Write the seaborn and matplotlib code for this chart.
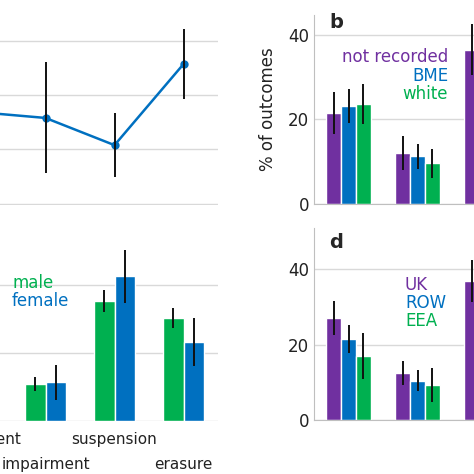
import matplotlib
matplotlib.use("Agg")
import matplotlib.pyplot as plt
import seaborn as sns
import numpy as np
import pandas as pd

sns.set_style("white")
plt.rcParams['font.family'] = ['DejaVu Sans']

PURPLE, BLUE, GREEN = "#7030A0", "#0070C0", "#00B050"
GRID = "#d9d9d9"

# panel a (line, left top)
outcomes = ["punishment", "impairment", "suspension", "erasure"]
a_vals = [1.69, 1.58, 1.08, 2.57]
a_err = [0.5, 1.02, 0.59, 0.65]

# panel c (gender, left bottom)
genders = ["male", "female"]
c_male = [8.0, 5.4, 17.6, 15.1]
c_female = [8.5, 5.7, 21.3, 11.6]
c_male_err = [1.5, 1.0, 1.6, 1.5]
c_female_err = [2.5, 2.6, 3.9, 3.5]

# panel b (ethnicity, right top)
groups = ["g1", "g2", "g3"]
ethnic = ["not recorded", "BME", "white"]
b_vals = {"not recorded": [21.5, 12.0, 36.5], "BME": [23.2, 11.3, 30.0], "white": [23.6, 9.6, 28.0]}
b_err = {"not recorded": [5.0, 4.0, 6.0], "BME": [4.0, 3.0, 4.0], "white": [4.7, 3.4, 4.0]}

# panel d (nationality, right bottom)
nation = ["UK", "ROW", "EEA"]
d_vals = {"UK": [27.0, 12.4, 36.8], "ROW": [21.5, 10.4, 30.0], "EEA": [17.0, 9.2, 28.0]}
d_err = {"UK": [4.5, 3.2, 5.5], "ROW": [3.8, 2.8, 4.0], "EEA": [6.0, 4.5, 4.0]}

W = H = 474
fig = plt.figure(figsize=(W / 100, H / 100), dpi=100)


def px_axes(x0, y0, x1, y1):
    return fig.add_axes([x0 / W, 1 - y1 / H, (x1 - x0) / W, (y1 - y0) / H])


def grouped_bars(ax, cats, hues, vals, errs, colors, width):
    df = pd.DataFrame([(c, h, vals[h][i]) for h in hues for i, c in enumerate(cats)],
                      columns=["cat", "hue", "val"])
    sns.barplot(data=df, x="cat", y="val", hue="hue", hue_order=hues, order=cats,
                palette=colors, width=width, errorbar=None, legend=False,
                saturation=1, ax=ax)
    n = len(hues)
    bw = width / n
    for j, h in enumerate(hues):
        xs = np.arange(len(cats)) - width / 2 + bw * (j + 0.5)
        ax.errorbar(xs, vals[h], yerr=errs[h], fmt="none", ecolor="#111111", elinewidth=1.4, capsize=0)


# ---- panel a
ax = px_axes(-92.5, 20, 218, 205)
sns.lineplot(x=np.arange(4), y=a_vals, marker="o", color=BLUE, linewidth=1.8,
             markersize=6, markeredgewidth=0, ax=ax)
ax.errorbar(np.arange(4), a_vals, yerr=a_err, fmt="none", ecolor="#111111", elinewidth=1.4)
ax.set_xlim(-1, 3.5)
ax.set_ylim(-0.02, 3.38)
ax.set_yticks([0, 1, 2, 3])
ax.grid(axis="y", color=GRID, linewidth=1)
ax.set_xticks([])
ax.set_yticklabels([])
sns.despine(ax=ax, left=True, bottom=True)

# ---- panel c
ax = px_axes(-92.5, 240, 218, 421)
grouped_bars(ax, outcomes, genders, {"male": c_male, "female": c_female},
             {"male": c_male_err, "female": c_female_err}, [GREEN, BLUE], 0.58)
ax.set_xlim(-1, 3.5)
ax.set_ylim(0, 26.6)
ax.set_yticks([0, 10, 20])
ax.set_yticklabels([])
ax.grid(axis="y", color=GRID, linewidth=1)
ax.set_axisbelow(True)
ax.set_xticks([0, 2])
ax.set_xticklabels([outcomes[0], outcomes[2]], fontsize=11, color="#222222")
ax.set_xticks([1, 3], minor=True)
ax.set_xticklabels([outcomes[1], outcomes[3]], minor=True, fontsize=11, color="#222222")
ax.tick_params(axis="x", which="major", length=0, pad=8)
ax.tick_params(axis="x", which="minor", length=0, pad=26)
ax.set_xlabel("")
ax.set_ylabel("")
sns.despine(ax=ax, left=True, bottom=True)
fig.text(12 / W, 1 - 283 / H, "male", color=GREEN, fontsize=12, va="center")
fig.text(12 / W, 1 - 301 / H, "female", color=BLUE, fontsize=12, va="center")

# ---- panel b
ax = px_axes(314, 15, 521, 204)
grouped_bars(ax, groups, ethnic, b_vals, b_err, [PURPLE, BLUE, GREEN], 0.65)
ax.set_xlim(-0.5, 2.5)
ax.set_ylim(0, 44.7)
ax.set_yticks([0, 20, 40])
ax.grid(axis="y", color=GRID, linewidth=1)
ax.set_axisbelow(True)
ax.set_xticks([])
ax.set_xlabel("")
ax.set_ylabel("% of outcomes", fontsize=12, color="#222222", labelpad=8)
ax.tick_params(axis="y", labelsize=12, length=0, labelcolor="#222222")
sns.despine(ax=ax, right=True, top=True)
for s in ["left", "bottom"]:
    ax.spines[s].set_color("#bfbfbf")
fig.text(329 / W, 1 - 22 / H, "b", fontsize=14, fontweight="bold", va="center")
for lab, col, y in zip(ethnic, [PURPLE, BLUE, GREEN], [57, 76, 94]):
    fig.text(448 / W, 1 - y / H, lab, color=col, fontsize=12, ha="right", va="center")

# ---- panel d
ax = px_axes(314, 228, 521, 420)
grouped_bars(ax, groups, nation, d_vals, d_err, [PURPLE, BLUE, GREEN], 0.65)
ax.set_xlim(-0.5, 2.5)
ax.set_ylim(0, 50.9)
ax.set_yticks([0, 20, 40])
ax.grid(axis="y", color=GRID, linewidth=1)
ax.set_axisbelow(True)
ax.set_xticks([])
ax.set_xlabel("")
ax.set_ylabel("")
ax.tick_params(axis="y", labelsize=12, length=0, labelcolor="#222222")
sns.despine(ax=ax, right=True, top=True)
for s in ["left", "bottom"]:
    ax.spines[s].set_color("#bfbfbf")
fig.text(329 / W, 1 - 243 / H, "d", fontsize=14, fontweight="bold", va="center")
for lab, col, y in zip(nation, [PURPLE, BLUE, GREEN], [285, 303, 321]):
    fig.text(405 / W, 1 - y / H, lab, color=col, fontsize=12, ha="left", va="center")

fig.savefig("out.png", dpi=100)
